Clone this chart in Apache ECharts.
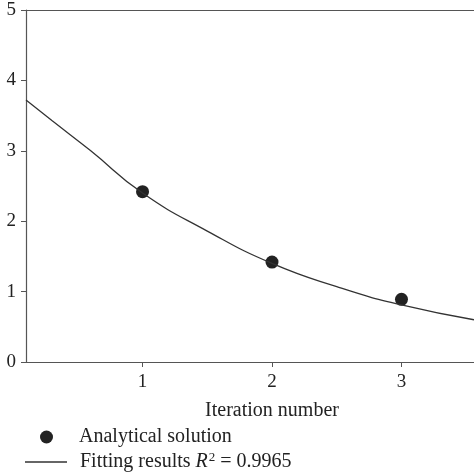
<!DOCTYPE html>
<html>
<head>
<meta charset="utf-8">
<script src="https://cdn.jsdelivr.net/npm/echarts@6/dist/echarts.min.js"></script>
<style>
  html, body { margin: 0; padding: 0; background: #fff; }
  #chart { width: 474px; height: 474px; }
</style>
</head>
<body>
<div id="chart"></div>
<script>
// values
const xTicks = [1, 2, 3]
const solutionX = [1, 2, 3]
const solutionY = [2.42, 1.42, 0.89]
const fitX = [0.1, 0.3, 0.6, 1.0, 1.5, 2.0, 2.5, 3.0, 3.56]
const fitY = [3.72, 3.43, 3.00, 2.40, 1.86, 1.40, 1.07, 0.81, 0.60]

const font = '"Liberation Serif", "DejaVu Serif", serif'
const axisColor = '#555'

const chart = echarts.init(document.getElementById('chart'), null, {renderer: 'canvas'})

chart.setOption({
  animation: false,
  backgroundColor: '#fff',
  grid: {left: 26, top: 10, right: 0, bottom: 112},
  xAxis: [{
    type: 'value',
    min: 0.1,
    max: 3.56,
    splitLine: {show: false},
    axisLine: {lineStyle: {color: axisColor, width: 1.2}},
    axisTick: {customValues: xTicks, length: 5, lineStyle: {color: axisColor}},
    axisLabel: {customValues: xTicks, margin: 11, color: '#222', fontFamily: font, fontSize: 19},
    name: 'Iteration number',
    nameLocation: 'middle',
    nameGap: 39,
    nameTextStyle: {color: '#222', fontFamily: font, fontSize: 20, padding: [0, 0, 0, 44]}
  }, {
    // top border line
    type: 'value',
    position: 'top',
    min: 0.1,
    max: 3.56,
    splitLine: {show: false},
    axisLine: {lineStyle: {color: axisColor, width: 1.2}},
    axisTick: {show: false},
    axisLabel: {show: false}
  }],
  yAxis: {
    type: 'value',
    min: 0,
    max: 5,
    interval: 1,
    splitLine: {show: false},
    axisLine: {show: true, lineStyle: {color: axisColor, width: 1.2}},
    axisTick: {show: true, length: 5, lineStyle: {color: axisColor}},
    axisLabel: {margin: 10, color: '#222', fontFamily: font, fontSize: 19}
  },
  legend: [{
    data: ['Analytical solution'],
    left: 40, top: 427,
    padding: 0,
    icon: 'circle',
    itemWidth: 13, itemHeight: 13,
    textStyle: {color: '#222', fontFamily: font, fontSize: 20, padding: [0, 0, 0, 21]}
  }, {
    data: ['Fitting results'],
    left: 25, top: 451,
    padding: 0,
    icon: 'rect',
    itemWidth: 42, itemHeight: 1.4,
    itemStyle: {color: '#333'},
    formatter: () => 'Fitting results {i|R}{sup|2} = 0.9965',
    textStyle: {
      color: '#222', fontFamily: font, fontSize: 20, padding: [0, 0, 0, 8],
      rich: {
        i: {fontFamily: font, fontSize: 20, fontStyle: 'italic', color: '#222'},
        sup: {fontFamily: font, fontSize: 13, color: '#222', padding: [0, 0, 9, 1]}
      }
    }
  }],
  series: [{
    name: 'Fitting results',
    type: 'line',
    smooth: 0.5,
    symbol: 'none',
    lineStyle: {color: '#333', width: 1.3},
    data: fitX.map((x, i) => [x, fitY[i]])
  }, {
    name: 'Analytical solution',
    type: 'scatter',
    symbol: 'circle',
    symbolSize: 13,
    itemStyle: {color: '#222', opacity: 1},
    data: solutionX.map((x, i) => [x, solutionY[i]])
  }]
})
</script>
</body>
</html>
